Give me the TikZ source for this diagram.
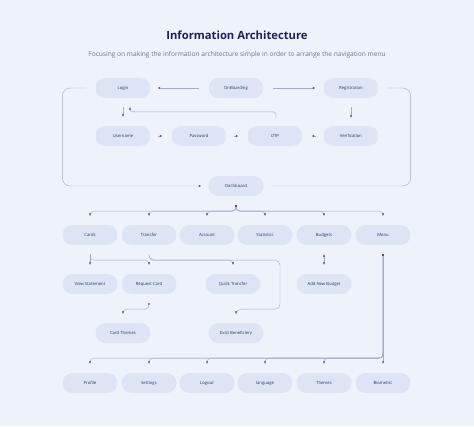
\documentclass[tikz,border=0pt]{standalone}
\usepackage{fontspec}
\setmainfont{Open Sans}
\usepackage{xcolor}
\usetikzlibrary{arrows.meta,positioning}

\definecolor{bgcol}{HTML}{EEF2FB}
\definecolor{pillcol}{HTML}{DCE4F6}
\definecolor{inkcol}{HTML}{2F3656}
\definecolor{titlecol}{HTML}{1C2352}
\definecolor{subcol}{HTML}{6E7391}
\definecolor{linecol}{HTML}{A3ABC6}
\definecolor{tipcol}{HTML}{4A5172}

\begin{document}
\begin{tikzpicture}[
  x=0.5mm, y=-0.5mm,
  font=\fontsize{6}{7}\selectfont,
  pill/.style={rounded corners=5mm, fill=pillcol, text=inkcol, inner sep=0pt,
               minimum width=27.5mm, minimum height=10mm},
  ar/.style={draw=linecol, line width=0.6pt, rounded corners=2mm,
             shorten <=4.5mm, shorten >=4.5mm,
             -{Latex[length=1.2mm, width=1mm, color=tipcol]}},
  dotar/.style={ar, {Circle[length=0.8mm, color=tipcol]}-{Latex[length=1.2mm, width=1mm, color=tipcol]}},
  ln/.style={draw=linecol, line width=0.6pt, rounded corners=4mm}
]
\fill[bgcol] (0,0) rectangle (474,426);
\useasboundingbox (0,0) rectangle (474,426);
% heading
\node[text=titlecol, font=\fontsize{16}{18}\selectfont\bfseries] (title) at (237,35)
  {Information Architecture};
\node[text=subcol, font=\fontsize{9.4}{11}\selectfont] (sub) at (237,55)
  {Focusing on making the information architecture simple in order to arrange the navigation menu};
% onboarding, row 1
\node[pill] (login) at (123,88) {Login};
\node[pill] (onb)   at (236,88) {OnBoarding};
\node[pill] (reg)   at (351,88) {Registration};
% row 2
\node[pill] (user)  at (123,136) {Username};
\node[pill] (pass)  at (199,136) {Password};
\node[pill] (otp)   at (275,136) {OTP};
\node[pill] (verif) at (351,136) {Verification};
% dashboard
\node[pill] (dash)  at (236,186) {Dashboard};
% row 3
\node[pill] (cards)    at (90,235)  {Cards};
\node[pill] (transfer) at (149,235) {Transfer};
\node[pill] (account)  at (207,235) {Account};
\node[pill] (stats)    at (265,235) {Statistics};
\node[pill] (budgets)  at (324,235) {Budgets};
\node[pill] (menu)     at (383,235) {Menu};
% row 4
\node[pill] (viewst)  at (90,284)  {View Statement};
\node[pill] (reqcard) at (149,284) {Request Card};
\node[pill] (quick)   at (233,284) {Quick Transfer};
\node[pill] (addbud)  at (324,284) {Add New Budget};
% row 5
\node[pill] (cthemes) at (123,333) {Card Themes};
\node[pill] (benef)   at (236,333) {Exist Beneficiery};
% row 6
\node[pill] (profile)  at (90,383)  {Profile};
\node[pill] (settings) at (149,383) {Settings};
\node[pill] (logout)   at (207,383) {Logout};
\node[pill] (lang)     at (265,383) {language};
\node[pill] (themes)   at (324,383) {Themes};
\node[pill] (bio)      at (383,383) {Biometric};
% arrows, onboarding
\draw[ar, shorten >=3.5mm] (onb) -- (login);
\draw[ar, shorten >=4mm] (onb) -- (reg);
\draw[ar, shorten >=4mm] (reg) -- (verif);
\draw[ar] (login) -- (user);
\draw[ar, shorten <=3.5mm] (user) -- (pass);
\draw[ar, shorten <=3.5mm] (pass) -- (otp);
\draw[ar, shorten <=3.5mm] (verif) -- (otp);
\draw[ar, rounded corners=1.5mm, shorten <=4mm]
  ([xshift=0.5mm]otp.north) -- ++(0,-14) -| ([xshift=3.5mm]login.south);
\draw[ar, rounded corners=4mm, shorten >=3.5mm] (login.west) -- ++(-33,0) |- (dash.west);
\draw[ln, shorten <=4.5mm, shorten >=4.5mm] (reg.east) -- ++(32,0) |- (dash.east);
% dashboard tree
\foreach \n in {cards,transfer,account,stats,budgets,menu}
  \draw[dotar] (dash.south) -- ++(0,15) -| (\n.north);
% cards, transfer
\draw[ar] (cards) -- (viewst);
\draw[ar] (cards.south) -- ++(0,15) -| (reqcard.north);
\draw[ar] (transfer.south) -- ++(0,15) -| (quick.north);
\draw[ar, rounded corners=2.5mm]
  (transfer.south) -- ++(0,15) -- ++(131,0) -- ++(0,49) -| (benef.north);
\draw[dotar] (reqcard.south) -- ++(0,15) -| (cthemes.north);
\draw[ar, {Latex[length=1.2mm, width=1mm, color=tipcol]}-{Latex[length=1.2mm, width=1mm, color=tipcol]}]
  (budgets) -- (addbud);
% menu tree
\foreach \n in {profile,settings,logout,lang,themes}
  \draw[dotar] (menu.south) -- ++(0,113) -| (\n.north);
\draw[dotar] (menu) -- (bio);
\end{tikzpicture}
\end{document}
